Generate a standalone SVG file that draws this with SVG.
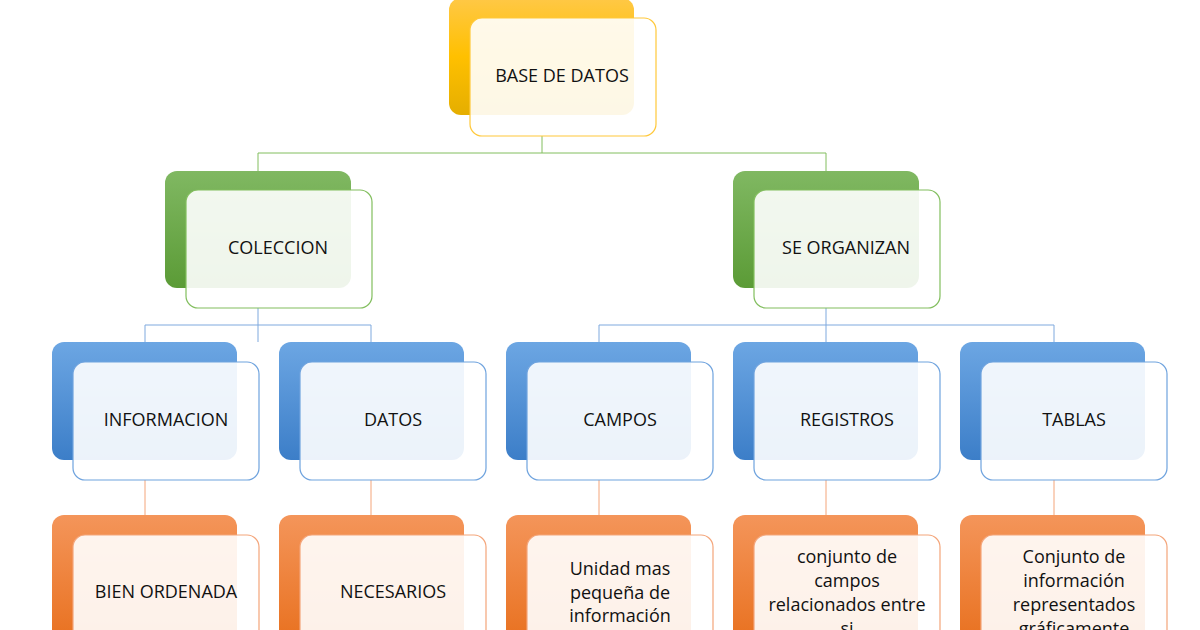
<svg xmlns="http://www.w3.org/2000/svg" width="1200" height="630" viewBox="0 0 1200 630">
<defs>
<linearGradient id="gy" x1="0" y1="0" x2="0" y2="1"><stop offset="0" stop-color="#FFC846"/><stop offset="0.5" stop-color="#FFC000"/><stop offset="1" stop-color="#E5AE00"/></linearGradient>
<linearGradient id="gg" x1="0" y1="0" x2="0" y2="1"><stop offset="0" stop-color="#80B862"/><stop offset="1" stop-color="#5B9B36"/></linearGradient>
<linearGradient id="gb" x1="0" y1="0" x2="0" y2="1"><stop offset="0" stop-color="#6CA6E3"/><stop offset="1" stop-color="#3C7EC8"/></linearGradient>
<linearGradient id="go" x1="0" y1="0" x2="0" y2="1"><stop offset="0" stop-color="#F4955A"/><stop offset="1" stop-color="#E8701E"/></linearGradient>
<style>
.f{fill:#fff;fill-opacity:0.9;stroke-width:1.2}
.y{stroke:#FFC83A}.g{stroke:#82BE5E}.b{stroke:#6FA3DE}.o{stroke:#F4A57A}
text{font-family:"Open Sans","Liberation Sans",sans-serif;font-size:18px;fill:#111;text-anchor:middle}
.c{fill:none;stroke-width:1}
</style>
</defs>
<g id="connectors">
<path class="c" stroke="#82BE5E" d="M542,136V153M258,153H826M258,153V171M826,153V171"/>
<path class="c" stroke="#7FA9DE" d="M258,308V342M145,325H371M145,325V342M371,325V342M826,308V342M599,325H1054M599,325V342M1054,325V342"/>
<path class="c" stroke="#F4A57A" d="M145,480V515M371,480V515M599,480V515M826,480V515M1054,480V515"/>
</g>
<g id="n-base"><rect x="449" y="-2" width="185" height="117" rx="12" fill="url(#gy)"/><rect class="f y" x="470" y="18" width="186" height="118" rx="12"/><text x="562" y="82">BASE DE DATOS</text></g>
<g id="n-coleccion"><rect x="165" y="171" width="186" height="117" rx="12" fill="url(#gg)"/><rect class="f g" x="186" y="190" width="186" height="118" rx="12"/><text x="278" y="254">COLECCION</text></g>
<g id="n-organizan"><rect x="733" y="171" width="186" height="117" rx="12" fill="url(#gg)"/><rect class="f g" x="754" y="190" width="186" height="118" rx="12"/><text x="846" y="254">SE ORGANIZAN</text></g>
<g id="n-informacion"><rect x="52" y="342" width="185" height="118" rx="12" fill="url(#gb)"/><rect class="f b" x="73" y="362" width="186" height="118" rx="12"/><text x="166" y="426">INFORMACION</text></g>
<g id="n-datos"><rect x="279" y="342" width="185" height="118" rx="12" fill="url(#gb)"/><rect class="f b" x="300" y="362" width="186" height="118" rx="12"/><text x="393" y="426">DATOS</text></g>
<g id="n-campos"><rect x="506" y="342" width="185" height="118" rx="12" fill="url(#gb)"/><rect class="f b" x="527" y="362" width="186" height="118" rx="12"/><text x="620" y="426">CAMPOS</text></g>
<g id="n-registros"><rect x="733" y="342" width="185" height="118" rx="12" fill="url(#gb)"/><rect class="f b" x="754" y="362" width="186" height="118" rx="12"/><text x="847" y="426">REGISTROS</text></g>
<g id="n-tablas"><rect x="960" y="342" width="185" height="118" rx="12" fill="url(#gb)"/><rect class="f b" x="981" y="362" width="186" height="118" rx="12"/><text x="1074" y="426">TABLAS</text></g>
<g id="n-bien"><rect x="52" y="515" width="185" height="130" rx="12" fill="url(#go)"/><rect class="f o" x="73" y="535" width="186" height="120" rx="12"/><text x="166" y="598">BIEN ORDENADA</text></g>
<g id="n-necesarios"><rect x="279" y="515" width="185" height="130" rx="12" fill="url(#go)"/><rect class="f o" x="300" y="535" width="186" height="120" rx="12"/><text x="393" y="598">NECESARIOS</text></g>
<g id="n-unidad"><rect x="506" y="515" width="185" height="130" rx="12" fill="url(#go)"/><rect class="f o" x="527" y="535" width="186" height="120" rx="12"/><text x="620" y="575">Unidad mas</text><text x="620" y="599">pequeña de</text><text x="620" y="622">información</text></g>
<g id="n-conjcampos"><rect x="733" y="515" width="185" height="130" rx="12" fill="url(#go)"/><rect class="f o" x="754" y="535" width="186" height="120" rx="12"/><text x="847" y="563">conjunto de</text><text x="847" y="587">campos</text><text x="847" y="611">relacionados entre</text><text x="847" y="635">si</text></g>
<g id="n-conjinfo"><rect x="960" y="515" width="185" height="130" rx="12" fill="url(#go)"/><rect class="f o" x="981" y="535" width="186" height="120" rx="12"/><text x="1074" y="563">Conjunto de</text><text x="1074" y="587">información</text><text x="1074" y="611">representados</text><text x="1074" y="635">gráficamente</text></g>
</svg>
